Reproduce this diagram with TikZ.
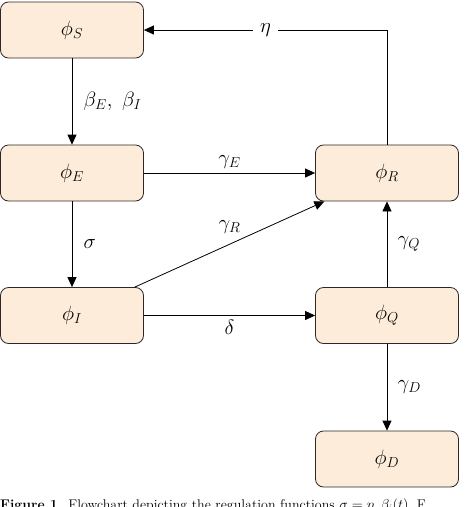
\documentclass[tikz,border=0pt]{standalone}
\usetikzlibrary{arrows.meta}
\definecolor{boxfill}{RGB}{253,236,218}
\definecolor{boxdraw}{RGB}{45,40,38}
\begin{document}
\begin{tikzpicture}[x=1pt,y=-1pt,
  box/.style={draw=boxdraw, fill=boxfill, rounded corners=8pt, minimum width=143pt, minimum height=56pt, line width=0.8pt, font=\fontsize{20}{22}\selectfont},
  flow/.style={-{Triangle[length=10pt,width=9pt]}, line width=0.8pt},
  lbl/.style={font=\fontsize{20}{22}\selectfont}]
\path[use as bounding box, clip] (0,0) rectangle (474,507);
\node[box] (S) at (72,30) {$\phi_S$};
\node[box] (E) at (72,173) {$\phi_E$};
\node[box] (I) at (72,315.5) {$\phi_I$};
\node[box] (R) at (387,173) {$\phi_R$};
\node[box] (Q) at (387,315.5) {$\phi_Q$};
\node[box] (D) at (387,459) {$\phi_D$};
\draw[flow] (S) -- node[midway, right=8pt, lbl] {$\beta_E,\ \beta_I$} (E);
\draw[flow] (E) -- node[midway, right=8pt, lbl] {$\sigma$} (I);
\draw[flow] (E) -- node[midway, above=1pt, lbl] {$\gamma_E$} (R);
\draw[flow] (I) -- node[midway, above=7pt, lbl] {$\gamma_R$} (R);
\draw[flow] (I) -- node[midway, below=1pt, lbl] {$\delta$} (Q);
\draw[flow] (Q) -- node[midway, right=7pt, lbl] {$\gamma_Q$} (R);
\draw[flow] (Q) -- node[midway, right=7pt, lbl] {$\gamma_D$} (D);
\draw[flow] (R) |- node[pos=0.75, fill=white, inner xsep=7pt, lbl] {$\eta$} (S);
\node[anchor=base west, inner sep=0pt, font=\fontsize{14}{16}\selectfont] (cap) at (0,509) {\textbf{Figure 1.} Flowchart depicting the regulation functions $\sigma = \eta, \beta_i(t)$, F};
\end{tikzpicture}
\end{document}
